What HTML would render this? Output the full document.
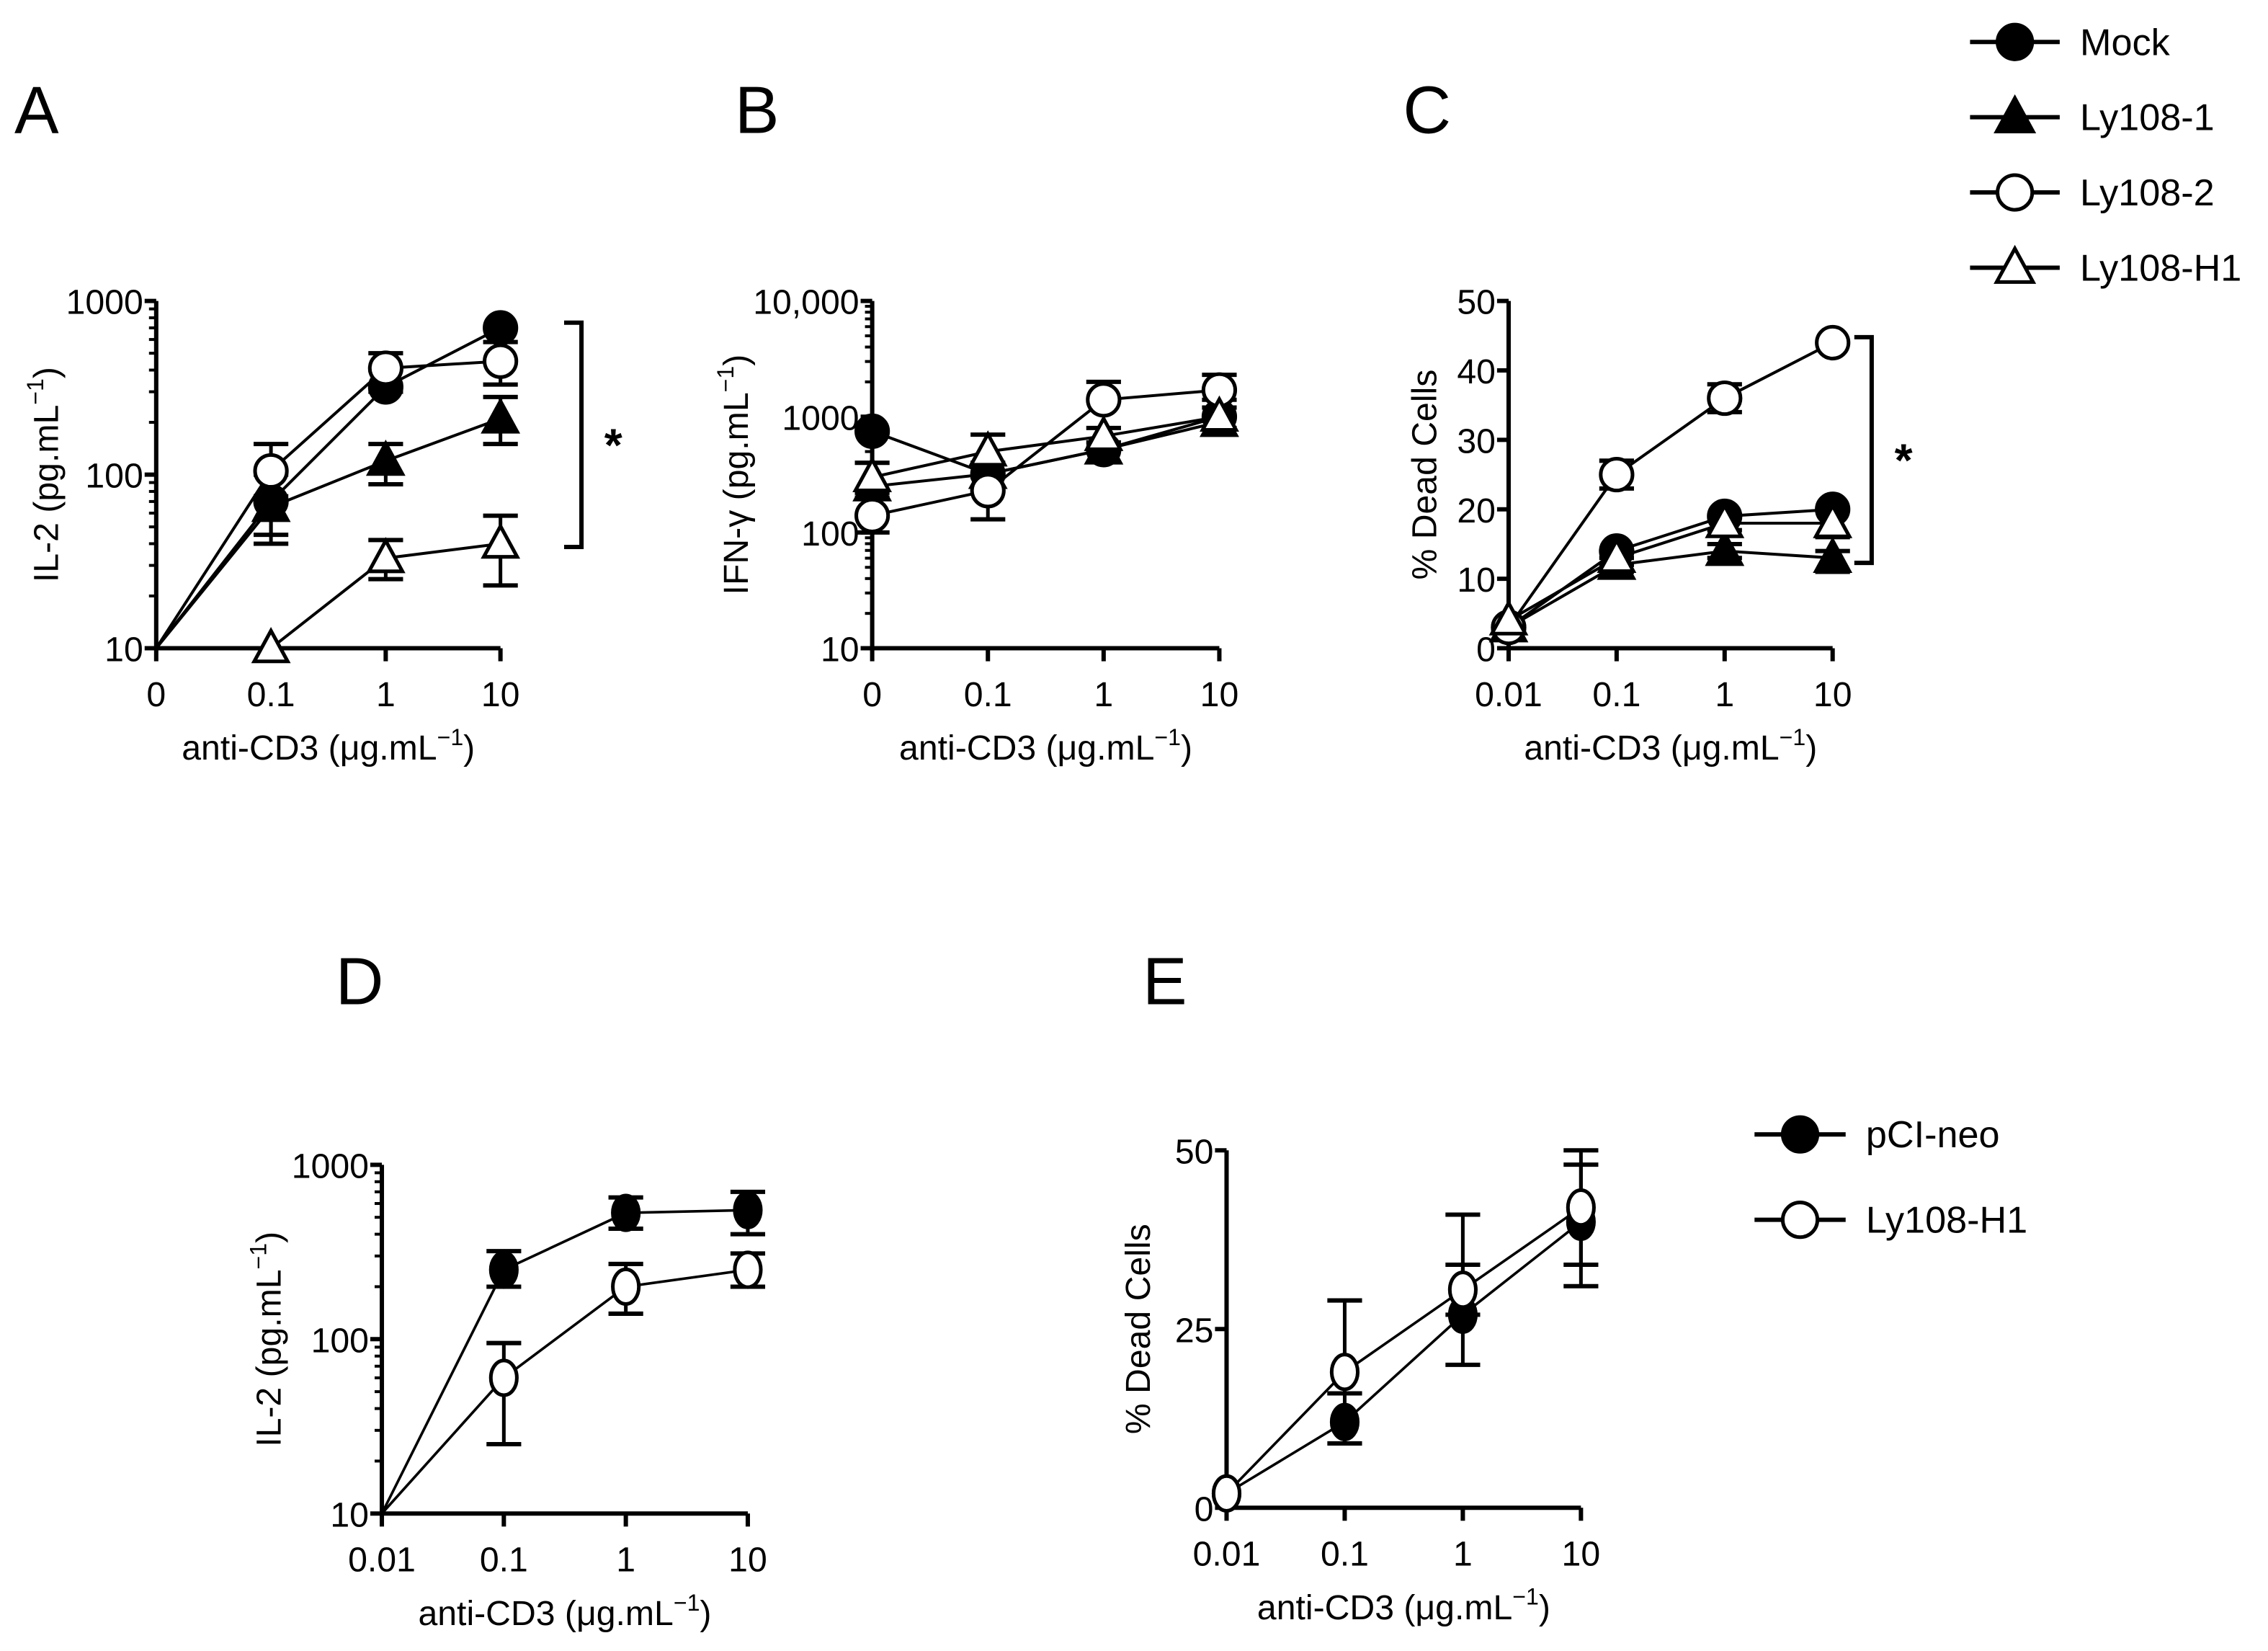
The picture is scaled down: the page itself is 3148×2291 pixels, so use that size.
<!DOCTYPE html>
<html><head><meta charset="utf-8"><style>html,body{margin:0;padding:0;background:#fff}svg{display:block}text{font-family:"Liberation Sans",sans-serif;fill:#000}</style></head>
<body>
<svg id="fig" width="3148" height="2291" viewBox="0 0 1568 1141" preserveAspectRatio="none" xmlns="http://www.w3.org/2000/svg"></svg>
<script>
// ---- data ----
const seriesNames = ["Mock","Ly108-1","Ly108-2","Ly108-H1"];
const mockA = [10,70,320,700];
const mockAErr = [[10,10],[45,75],[300,330],[700,700]];
const ly1A = [10,65,120,210];
const ly1AErr = [[10,10],[40,70],[88,150],[150,280]];
const ly2A = [10,105,410,450];
const ly2AErr = [[10,10],[100,150],[400,500],[330,580]];
const h1A = [10,10,33,40];
const h1AErr = [[10,10],[10,10],[25,42],[23,58]];

const mockB = [750,320,520,1000];
const ly1B = [250,320,520,900];
const ly2B = [140,230,1400,1700];
const ly2BErr = [[100,200],[130,300],[1400,2000],[1400,2300]];
const h1B = [300,500,680,1000];
const h1BErr = [[220,400],[400,700],[600,800],[800,1200]];

const mockC = [3,14,19,20];
const ly1C = [3,12,14,13];
const ly1CErr = [[3,3],[11,13],[13,15],[11,14]];
const ly2C = [3,25,36,44];
const ly2CErr = [[3,3],[23,27],[34,38],[44,44]];
const h1C = [4,13,18,18];
const h1CErr = [[4,4],[12,14],[17,19],[16,20]];

const pciD = [10,250,530,550];
const pciDErr = [[10,10],[200,320],[430,650],[400,700]];
const h1D = [10,60,200,250];
const h1DErr = [[10,10],[25,95],[140,270],[200,310]];

const pciE = [2,12,27,40];
const pciEErr = [[2,2],[9,16],[20,34],[31,48]];
const h1E = [2,19,30.5,42];
const h1EErr = [[2,2],[16,29],[27,41],[34,50]];

const xTicksA = ["0","0.1","1","10"];
const xTicksC = ["0.01","0.1","1","10"];

// ---- helpers ----
const NS="http://www.w3.org/2000/svg";
const svg=document.getElementById('fig');
function mk(tag,attrs,parent,txt){const e=document.createElementNS(NS,tag);for(const k in attrs)e.setAttribute(k,attrs[k]);if(txt!==undefined)e.textContent=txt;(parent||svg).appendChild(e);return e;}

function marker(g,type,x,y,r){
  let e;
  const fill=(type==='fc'||type==='ft')?'#000':'#fff';
  if(type==='fc'||type==='oc'){e=mk('ellipse',{cx:x,cy:y,rx:r.rx,ry:r.ry,fill:fill,stroke:'#000','stroke-width':2.5},g);}
  else{const h=r.ry*1.1,w=r.rx*1.05;e=mk('polygon',{points:`${x},${y-h} ${x-w},${y+h*0.75} ${x+w},${y+h*0.75}`,fill:fill,stroke:'#000','stroke-width':2.5},g);}
  return e;
}

function panel(cfg){
  const g=mk('g',{});
  
  
  const X=i=>cfg.x0+i*(cfg.x1-cfg.x0)/3;
  const Y=v=>cfg.log?cfg.yb-(Math.log10(v)-Math.log10(cfg.ymin))/(Math.log10(cfg.ymax)-Math.log10(cfg.ymin))*(cfg.yb-cfg.yt)
                     :cfg.yb-(v-cfg.ymin)/(cfg.ymax-cfg.ymin)*(cfg.yb-cfg.yt);
  const ax=mk('path',{d:`M${cfg.x0},${cfg.yt}V${cfg.yb}H${cfg.x1}`,fill:'none',stroke:'#000','stroke-width':cfg.aw},g);
  
  cfg.yTicks.forEach((t,i)=>{const y=Y(cfg.yTickVals[i]);
    mk('line',{x1:cfg.x0-8,x2:cfg.x0,y1:y,y2:y,stroke:'#000','stroke-width':cfg.aw},g);
    const tt=mk('text',{x:cfg.x0-9,y:y+9,'font-size':cfg.fs,'text-anchor':'end'},g,t);
    });
  if(cfg.log){const d0=Math.log10(cfg.ymin),d1=Math.log10(cfg.ymax);
    for(let d=d0;d<d1;d++)for(let m=2;m<10;m++){const y=Y(m*Math.pow(10,d));mk('line',{x1:cfg.x0-5,x2:cfg.x0,y1:y,y2:y,stroke:'#000','stroke-width':2},g);}}
  cfg.xTicks.forEach((t,i)=>{const x=X(i);
    mk('line',{x1:x,x2:x,y1:cfg.yb,y2:cfg.yb+9,stroke:'#000','stroke-width':cfg.aw},g);
    const tt=mk('text',{x:x,y:cfg.yb+40,'font-size':cfg.fs,'text-anchor':'middle'},g,t);
    });
  const xt=mk('text',{x:(cfg.x0+cfg.x1)/2,y:cfg.yb+77,'font-size':cfg.fs,'text-anchor':'middle'},g);
  xt.innerHTML='anti‑CD3 (μg.mL<tspan dy="-10" font-size="16">−1</tspan><tspan dy="10">)</tspan>';
  
  const yt=mk('text',{x:0,y:0,'font-size':cfg.fs,'text-anchor':'middle',transform:`translate(${cfg.ytx},${(cfg.yt+cfg.yb)/2}) rotate(-90)`},g);
  yt.innerHTML=cfg.ytitle;
  
  cfg.series.forEach(s=>{
    const sg=mk('g',{},g);
    
    
    const pts=[];s.vals.forEach((v,i)=>{if(s.start!==undefined&&i<s.start)return;pts.push(X(i)+','+Y(v));});
    mk('polyline',{points:pts.join(' '),fill:'none',stroke:'#000','stroke-width':cfg.lw},sg);
    if(s.err)s.err.forEach((e,i)=>{const x=X(i);
      [e[0],e[1]].forEach(v=>{const y=Y(v);if(Math.abs(y-Y(s.vals[i]))<1)return;mk('line',{x1:x,x2:x,y1:Y(s.vals[i]),y2:y,stroke:'#000','stroke-width':2.5},sg);mk('line',{x1:x-12,x2:x+12,y1:y,y2:y,stroke:'#000','stroke-width':3},sg);});});
    s.vals.forEach((v,i)=>{if(i<(s.mstart||0))return;const m=marker(sg,s.type,X(i),Y(v),cfg.mr);
      
      });
  });
  if(cfg.bracket){const b=cfg.bracket;
    const bp=mk('path',{d:`M${b.x-12},${b.y0}H${b.x}V${b.y1}H${b.x-12}`,fill:'none',stroke:'#000','stroke-width':3},g);
    
    const st=mk('text',{x:b.x+22,y:(b.y0+b.y1)/2+18,'font-size':32,'font-weight':'bold','text-anchor':'middle'},g,'*');
    }
  const L=mk('text',{x:cfg.lx,y:cfg.ly,'font-size':46},g,cfg.letter);
  
}
const ytIL2='IL-2 (pg.mL<tspan dy="-10" font-size="16">−1</tspan><tspan dy="10">)</tspan>';
const big={rx:11,ry:11};
panel({name:'panel-a',letter:'A',lx:10,ly:92,x0:108,x1:346,yt:208,yb:448,log:true,ymin:10,ymax:1000,yTicks:['10','100','1000'],yTickVals:[10,100,1000],xTicks:xTicksA,fs:24,aw:3,lw:2,mr:big,ytx:40,ytitle:ytIL2,
 bracket:{x:402,y0:223,y1:378},
 series:[{name:'Mock',vals:mockA,err:mockAErr,type:'fc',mstart:1},{name:'Ly108-1',vals:ly1A,err:ly1AErr,type:'ft',mstart:1},{name:'Ly108-2',vals:ly2A,err:ly2AErr,type:'oc',mstart:1},{name:'Ly108-H1',vals:h1A,err:h1AErr,type:'ot',start:1,mstart:1}]});
panel({name:'panel-b',letter:'B',lx:508,ly:92,x0:603,x1:843,yt:208,yb:448,log:true,ymin:10,ymax:10000,yTicks:['10','100','1000','10,000'],yTickVals:[10,100,1000,10000],xTicks:xTicksA,fs:24,aw:3,lw:2,mr:big,ytx:517,
 ytitle:'IFN‑γ (pg.mL<tspan dy="-10" font-size="16">−1</tspan><tspan dy="10">)</tspan>',
 series:[{name:'Mock',vals:mockB,type:'fc'},{name:'Ly108-1',vals:ly1B,type:'ft'},{name:'Ly108-2',vals:ly2B,err:ly2BErr,type:'oc'},{name:'Ly108-H1',vals:h1B,err:h1BErr,type:'ot'}]});
panel({name:'panel-c',letter:'C',lx:970,ly:92,x0:1043,x1:1267,yt:208,yb:448,log:false,ymin:0,ymax:50,yTicks:['0','10','20','30','40','50'],yTickVals:[0,10,20,30,40,50],xTicks:xTicksC,fs:24,aw:3,lw:2,mr:big,ytx:993,ytitle:'% Dead Cells',
 bracket:{x:1294,y0:233,y1:389},
 series:[{name:'Mock',vals:mockC,type:'fc'},{name:'Ly108-1',vals:ly1C,err:ly1CErr,type:'ft'},{name:'Ly108-2',vals:ly2C,err:ly2CErr,type:'oc'},{name:'Ly108-H1',vals:h1C,err:h1CErr,type:'ot'}]});
panel({name:'panel-d',letter:'D',lx:232,ly:694,x0:264,x1:517,yt:805,yb:1046,log:true,ymin:10,ymax:1000,yTicks:['10','100','1000'],yTickVals:[10,100,1000],xTicks:xTicksC,fs:24,aw:3,lw:1.8,mr:{rx:9,ry:12},ytx:194,ytitle:ytIL2,
 series:[{name:'pCI-neo',vals:pciD,err:pciDErr,type:'fc',mstart:1},{name:'Ly108-H1',vals:h1D,err:h1DErr,type:'oc',mstart:1}]});
panel({name:'panel-e',letter:'E',lx:790,ly:694,x0:848,x1:1093,yt:795,yb:1042,log:false,ymin:0,ymax:50,yTicks:['0','25','50'],yTickVals:[0,25,50],xTicks:xTicksC,fs:24,aw:3,lw:1.8,mr:{rx:9,ry:12},ytx:795,ytitle:'% Dead Cells',
 series:[{name:'pCI-neo',vals:pciE,err:pciEErr,type:'fc'},{name:'Ly108-H1',vals:h1E,err:h1EErr,type:'oc'}]});

function legend(items,types,x0,x1,ys,name){
  const g=mk('g',{});
  items.forEach((t,i)=>{const e=mk('g',{},g);
    
    mk('line',{x1:x0,x2:x1,y1:ys[i],y2:ys[i],stroke:'#000','stroke-width':3},e);
    marker(e,types[i],(x0+x1)/2,ys[i],{rx:12,ry:12});
    mk('text',{x:x1+14,y:ys[i]+9,'font-size':26},e,t);});
}
legend(seriesNames,['fc','ft','oc','ot'],1362,1424,[29,81,133,185],'legend-top');
legend(['pCI-neo','Ly108-H1'],['fc','oc'],1213,1276,[784,843],'legend-bottom');
</script>
</body></html>
